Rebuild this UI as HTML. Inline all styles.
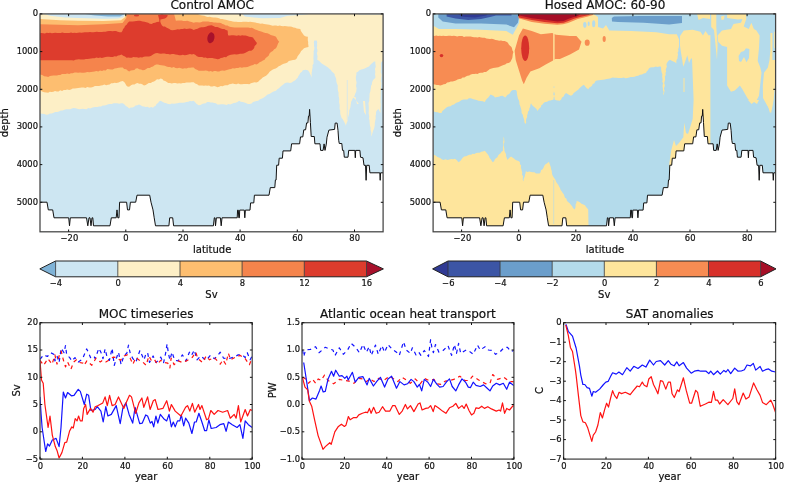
<!DOCTYPE html>
<html lang="en">
<head>
<meta charset="utf-8">
<title>AMOC hosing experiment figure</title>
<style>
html,body{margin:0;padding:0;background:#fff;}
body{width:785px;height:482px;overflow:hidden;}
svg{display:block;}
svg text{font-family:"DejaVu Sans", "Liberation Sans", sans-serif;fill:#111;stroke:#111;stroke-width:0.2px;}
</style>
</head>
<body>
<svg width="785" height="482" viewBox="0 0 785 482">
<defs><clipPath id="c1"><rect x="40.0" y="13.9" width="343.1" height="217.9"/></clipPath><clipPath id="c2"><rect x="433.1" y="13.9" width="342.5" height="217.9"/></clipPath><clipPath id="b1"><rect x="40.0" y="322.7" width="212.2" height="136.4"/></clipPath><clipPath id="b2"><rect x="302.0" y="322.7" width="211.9" height="136.4"/></clipPath><clipPath id="b3"><rect x="563.6" y="322.7" width="212.0" height="136.4"/></clipPath></defs>
<rect width="785" height="482" fill="#fff"/>
<g clip-path="url(#c1)">
<rect x="40.0" y="13.9" width="343.1" height="217.9" fill="#cde6f2"/>
<polygon points="40.0,113.5 42.2,113.7 44.3,114.0 46.4,114.8 48.2,114.5 49.9,113.4 51.8,113.5 53.6,112.8 55.3,112.0 57.2,112.1 59.0,111.6 60.7,110.6 62.6,110.6 64.4,109.8 66.2,109.3 68.1,109.2 70.1,109.2 71.8,108.4 73.6,108.1 75.5,108.3 77.3,108.8 79.1,109.2 80.9,108.9 82.8,108.8 84.6,109.0 86.5,109.2 88.2,108.0 90.1,108.6 91.8,107.7 93.6,107.3 95.4,107.0 97.3,107.1 99.1,106.5 101.0,106.6 102.7,105.4 104.6,105.4 106.4,105.0 108.2,104.3 110.0,104.0 111.8,104.0 113.6,103.3 115.5,103.2 117.3,103.3 119.2,103.7 121.0,103.3 122.8,103.3 124.5,104.4 125.9,105.9 127.6,107.1 129.2,108.4 130.8,107.6 132.6,107.4 134.2,106.7 135.6,105.6 137.4,105.3 139.0,104.6 140.7,105.3 142.2,106.3 144.0,106.5 145.8,107.0 147.6,106.8 149.3,107.8 151.3,107.1 153.0,107.8 154.2,106.6 155.7,105.7 156.5,104.0 158.1,103.1 159.0,101.6 160.6,100.8 162.4,101.8 164.3,102.7 166.3,103.3 168.2,104.0 170.1,104.2 171.8,103.4 173.7,103.7 175.5,103.4 177.4,103.2 179.2,102.8 181.0,102.7 182.9,102.8 184.7,102.6 186.4,101.9 188.3,101.8 190.0,100.9 191.9,101.3 193.7,100.8 195.3,102.4 196.7,104.1 198.8,105.2 200.6,105.0 202.1,103.9 203.9,103.5 205.7,103.2 207.1,102.0 209.0,102.0 210.7,102.4 212.5,102.5 214.2,102.9 215.9,103.3 217.4,104.5 219.2,104.6 221.0,104.2 222.9,104.3 224.7,104.5 226.5,105.0 228.4,104.1 230.2,104.6 232.0,103.8 233.8,103.1 235.7,102.7 237.5,101.9 239.1,100.8 240.7,101.8 242.7,101.9 244.5,102.6 246.3,103.2 248.0,104.0 249.8,103.9 251.6,103.4 253.0,102.0 254.7,101.5 256.4,101.1 258.2,100.8 259.6,99.6 261.4,98.8 263.1,98.0 264.6,96.9 266.1,95.7 267.5,94.5 269.4,94.0 271.0,93.1 272.5,92.0 274.2,91.3 276.0,90.7 277.3,89.3 279.0,88.2 280.4,86.8 282.0,85.6 283.6,84.3 285.0,82.9 287.5,82.5 290.0,83.0 291.8,82.4 293.4,81.3 295.0,80.4 296.4,79.1 297.7,77.8 298.4,76.1 299.5,74.6 300.3,72.9 301.9,71.8 302.8,70.2 305.4,69.7 307.9,70.2 309.3,71.9 310.1,73.9 311.1,75.7 311.7,77.8 311.7,76.0 311.6,74.2 311.7,72.4 312.1,70.6 312.2,68.9 312.7,67.1 312.5,65.3 313.6,63.6 313.5,61.8 313.6,60.0 313.6,60.0 313.4,58.2 313.5,56.5 313.6,54.7 313.7,52.9 313.6,51.2 314.2,49.4 314.4,47.7 314.0,45.9 314.1,44.1 313.8,42.4 314.2,40.6 316.8,40.6 317.2,42.4 317.0,44.1 317.2,45.9 316.8,47.7 317.3,49.4 317.5,51.2 316.8,53.0 317.2,54.7 317.6,56.5 317.3,58.2 317.4,60.0 319.1,60.8 320.4,62.2 321.7,63.6 323.3,64.6 324.9,65.6 326.6,66.4 328.0,67.6 329.4,68.8 330.8,70.0 331.8,71.6 333.3,72.7 334.6,74.0 334.8,75.7 335.6,77.2 336.2,78.9 336.2,80.6 336.5,82.3 337.1,83.9 337.8,85.5 337.7,87.4 337.8,89.2 338.0,91.0 338.6,92.8 338.5,94.7 338.7,96.5 339.1,98.3 339.2,100.1 339.0,102.0 339.4,103.7 339.7,105.5 339.6,107.3 339.6,109.1 340.3,110.7 340.2,112.5 340.4,114.3 341.0,116.0 341.5,117.8 342.8,119.3 343.7,120.9 344.5,122.6 345.4,124.2 346.0,126.0 346.2,124.2 346.9,122.6 347.5,120.9 347.9,119.2 348.0,117.4 348.5,115.7 349.0,114.0 349.2,112.2 349.2,110.4 349.9,108.8 350.4,107.2 350.6,105.4 350.9,103.7 351.0,102.0 351.9,100.2 352.7,98.4 354.1,96.9 354.8,95.0 355.4,93.3 356.2,91.8 356.4,90.1 356.6,88.3 356.1,86.6 356.1,84.9 356.6,83.1 356.4,81.4 355.9,79.6 355.9,77.9 355.9,76.2 356.5,74.4 356.2,72.7 358.0,71.8 359.4,70.3 361.3,69.5 363.3,69.0 365.3,68.3 367.1,67.3 369.0,66.4 370.2,65.0 371.5,63.8 374.0,61.5 375.3,61.5 375.3,63.3 375.6,65.2 375.7,67.0 374.9,68.8 375.2,70.7 375.3,72.5 375.0,74.3 375.4,76.2 375.3,78.0 373.5,79.5 372.6,81.0 372.0,82.7 371.8,84.5 371.0,86.0 370.9,87.8 370.6,89.6 370.3,91.4 369.7,93.2 369.5,95.0 369.5,97.0 369.2,99.0 369.3,101.0 368.5,103.0 368.6,105.0 368.8,107.0 368.8,109.0 368.8,111.0 368.6,113.0 369.0,115.0 369.2,116.8 369.0,118.7 369.5,120.5 369.6,122.3 369.8,124.2 370.0,126.0 370.6,127.7 370.5,129.5 371.0,131.3 371.4,133.0 371.0,134.9 371.5,136.6 371.7,134.7 372.5,132.9 373.0,131.0 373.9,129.0 374.5,126.8 374.8,125.0 374.8,123.3 375.1,121.5 375.4,119.8 375.8,118.0 375.5,116.2 376.0,114.5 376.0,112.7 376.4,111.0 378.4,109.0 379.5,110.9 380.3,113.0 380.6,111.2 380.4,109.5 380.5,107.7 380.7,106.0 380.8,104.2 380.5,102.4 380.6,100.7 380.6,98.9 380.6,97.1 380.8,95.4 380.7,93.6 380.8,91.8 380.8,90.1 381.2,88.3 381.0,86.6 381.2,84.8 381.3,83.0 380.8,81.3 381.0,79.5 381.1,77.8 381.4,76.0 381.4,74.3 380.8,72.5 380.8,70.7 381.1,69.0 380.9,67.2 381.0,65.5 380.9,63.7 381.3,62.0 383.4,60.5 383.4,13.6 39.7,13.6" fill="#fdefc6" />
<line x1="347.3" y1="80" x2="347.3" y2="120" stroke="#cde6f2" stroke-width="0.7"/>
<polygon points="353.0,97.0 355.5,97.0 357.0,104.0 358.8,104.0 356.0,100.0" fill="#fdefc6" />
<polygon points="363.0,101.0 365.0,101.0 366.0,115.0 364.0,112.0" fill="#fdefc6" />
<polygon points="40.0,90.6 42.1,91.4 44.2,92.2 46.4,92.5 48.2,92.7 49.8,91.7 51.6,92.0 53.4,91.7 55.0,90.9 56.9,91.5 58.6,91.4 60.2,90.3 62.1,90.9 63.7,90.0 65.5,89.9 67.3,89.6 69.2,89.9 71.0,89.4 72.7,88.4 74.6,88.5 76.4,88.3 78.2,88.0 80.0,87.7 81.8,87.5 83.7,87.5 85.5,87.9 87.3,87.0 89.2,87.5 91.0,87.4 93.0,87.0 94.9,86.1 97.0,86.1 99.0,86.0 101.0,85.5 102.7,85.2 104.3,84.4 106.2,85.2 107.9,84.7 109.6,84.6 111.2,83.3 112.9,83.2 114.6,82.7 116.4,82.9 118.6,82.6 120.6,81.4 122.8,81.0 124.4,82.2 125.4,83.8 126.3,85.6 127.9,86.8 129.6,86.5 131.0,85.3 132.6,84.5 134.5,84.6 136.0,83.6 137.6,82.9 139.1,83.8 141.0,83.8 142.6,84.4 144.0,85.5 145.7,85.0 147.3,84.0 148.7,82.9 150.8,83.0 152.3,82.0 154.0,81.4 155.5,80.4 157.0,79.3 159.0,79.5 160.6,78.5 162.4,79.0 163.4,80.6 165.2,81.1 166.8,81.9 168.2,82.9 170.0,83.1 171.8,83.6 173.7,82.9 175.5,82.9 177.3,83.4 179.2,83.2 181.0,83.6 182.8,83.0 184.6,82.9 186.4,82.6 188.2,82.5 190.1,82.5 191.9,82.3 193.7,82.3 195.2,83.6 197.2,84.2 198.8,85.5 200.5,85.6 202.2,85.4 203.9,85.7 205.6,85.4 207.3,85.8 209.0,85.6 210.7,86.5 212.4,86.4 214.1,86.1 215.8,86.6 217.5,87.2 219.2,86.8 220.8,86.0 222.7,86.3 224.2,85.5 225.9,85.2 227.7,85.2 229.3,84.3 231.0,84.0 232.7,83.6 234.5,83.9 236.4,84.3 238.2,83.6 240.1,84.2 241.9,84.2 243.8,84.1 245.6,84.0 247.5,84.0 249.3,84.2 250.9,83.2 252.7,82.8 254.5,82.2 256.5,82.5 258.2,81.7 259.6,80.2 261.2,78.9 262.7,77.5 264.6,76.6 266.1,75.7 267.4,74.6 268.6,73.3 269.6,71.8 271.0,70.8 272.4,69.7 274.0,69.0 275.7,68.4 277.3,67.6 278.7,66.3 280.5,65.6 282.0,64.5 283.7,63.8 285.6,63.3 287.4,62.4 288.8,61.0 290.9,60.6 293.0,59.9 295.2,59.7 296.9,58.3 297.6,56.2 299.0,54.6 300.1,52.9 301.1,51.1 302.6,49.7 304.0,48.2 306.2,47.6 308.5,47.0 308.5,47.0 308.4,45.3 308.1,43.6 308.2,41.9 307.8,40.2 307.8,38.5 307.9,36.8 305.9,36.4 304.0,35.5 303.0,33.9 301.9,32.5 300.9,30.9 300.3,29.1 298.6,28.8 296.8,28.4 295.2,27.8 293.4,27.4 291.8,26.8 290.0,26.6 288.3,26.4 286.6,26.2 284.8,26.0 283.1,26.2 281.4,26.1 279.7,25.6 277.9,26.0 276.2,25.5 274.5,25.4 272.7,25.7 271.0,25.3 269.3,24.8 267.6,24.4 265.8,24.3 264.0,24.0 262.3,23.6 260.5,23.8 258.8,23.2 257.0,23.0 255.3,22.5 253.6,22.2 251.8,22.1 250.1,21.8 248.3,21.9 246.6,21.7 244.9,21.8 243.1,21.7 241.4,22.0 239.6,22.0 237.9,21.9 236.2,21.7 234.4,21.8 232.7,21.5 231.0,20.9 229.3,20.7 227.6,20.2 225.9,19.8 224.2,19.4 222.4,19.1 220.6,19.0 219.0,18.3 217.2,17.8 215.3,17.6 213.4,17.5 211.6,17.2 209.7,16.8 207.8,17.0 206.0,16.4 204.4,15.8 202.6,15.6 200.9,15.3 199.3,14.7 197.7,13.9 196.0,13.6 126.3,13.6 125.3,17.0 121.0,20.3 103.7,21.0 78.0,20.8 60.0,20.3 39.7,18.9" fill="#fdbe70" />
<polygon points="40.0,74.6 42.2,75.0 44.2,76.2 46.4,76.6 48.2,76.9 49.9,76.1 51.6,75.8 53.3,75.6 55.1,75.6 56.9,75.5 58.6,75.1 60.3,74.9 62.0,74.0 63.7,73.9 65.5,74.0 67.3,73.5 69.2,73.9 70.9,73.2 72.8,73.3 74.5,72.5 76.3,72.4 78.2,72.7 80.0,72.4 81.9,72.7 83.7,72.7 85.5,72.6 87.3,72.0 89.2,72.2 91.0,72.1 92.8,71.8 94.6,71.5 96.4,70.9 98.3,71.4 100.0,70.4 102.0,71.0 103.7,70.2 105.6,70.4 107.3,69.1 109.1,69.3 111.0,69.5 112.8,69.4 114.6,68.5 116.4,68.3 118.5,67.8 120.6,67.5 122.8,67.6 124.1,69.0 126.2,69.3 127.6,70.6 129.2,71.5 130.7,70.5 132.6,70.2 134.4,70.0 135.8,68.6 137.6,68.3 139.2,69.3 141.0,69.6 142.7,70.2 144.6,70.0 146.2,69.1 147.7,68.0 149.7,68.1 151.3,67.0 153.0,66.4 154.5,65.3 156.1,64.6 158.0,64.5 159.7,64.9 161.4,65.3 163.2,65.5 164.9,65.8 166.5,66.4 168.2,67.0 170.0,67.0 171.8,67.7 173.7,67.0 175.5,68.0 177.3,68.3 179.2,67.7 181.0,68.3 182.8,68.7 184.6,68.3 186.5,68.4 188.2,67.7 190.1,67.7 191.9,67.6 193.7,67.6 195.1,69.1 197.0,69.8 198.8,70.8 200.5,70.7 202.2,70.8 203.9,70.7 205.6,70.5 207.3,70.7 209.0,71.5 210.7,71.0 212.4,71.7 214.1,71.0 215.8,71.1 217.5,71.5 219.2,71.5 220.8,70.8 222.5,70.6 224.4,70.8 226.0,70.3 227.7,69.8 229.4,69.2 231.1,69.1 232.7,68.3 234.6,68.6 236.4,68.0 238.2,68.1 240.0,67.2 241.9,67.8 243.7,67.3 245.5,67.2 247.5,66.9 249.3,66.3 251.1,65.4 253.1,65.1 254.7,64.1 256.6,64.5 258.2,63.5 259.6,62.2 261.4,61.6 262.9,60.5 264.6,59.7 265.7,58.0 267.4,56.8 268.8,55.4 269.5,53.4 271.0,52.0 272.8,50.9 274.2,49.3 276.0,48.2 276.9,46.6 277.5,44.9 278.1,43.2 279.2,41.8 279.2,41.8 277.9,40.3 276.9,38.6 276.0,36.8 274.3,35.9 272.5,35.5 270.7,35.1 269.1,34.0 267.4,33.3 265.5,33.0 263.7,32.6 262.0,31.7 260.2,31.3 258.5,30.7 256.9,29.9 255.1,29.4 253.4,28.6 251.8,27.8 250.1,27.9 248.3,27.6 246.6,27.4 244.9,27.4 243.1,27.6 241.4,27.5 239.6,27.4 237.9,27.4 236.2,27.4 234.4,27.6 232.7,27.2 230.8,27.1 229.0,26.6 227.5,25.6 225.6,25.5 224.1,24.6 222.5,23.9 220.9,23.1 219.2,22.7 217.4,22.7 215.5,22.5 213.7,22.4 211.9,22.1 210.1,21.9 208.3,21.4 206.4,21.5 204.6,21.4 202.7,21.6 201.0,22.3 199.2,22.5 197.3,22.2 195.5,22.3 193.7,22.7 191.6,22.1 189.5,21.4 187.3,20.8 185.4,21.1 183.5,20.9 181.6,20.5 179.7,20.6 177.8,20.6 175.9,20.8 174.0,13.6 127.2,13.6 126.3,18.0 122.5,23.0 103.7,24.3 78.0,25.3 39.7,24.3" fill="#f5844c" />
<polygon points="72.0,60.3 73.8,60.6 75.4,59.7 77.1,59.4 78.9,59.3 80.6,59.5 82.4,59.4 84.1,59.5 85.8,59.1 87.6,58.9 89.3,58.8 91.0,58.4 92.8,58.2 94.6,58.2 96.4,57.5 98.3,58.1 100.1,57.5 101.9,58.0 103.7,57.6 105.5,57.1 107.3,56.8 109.1,56.8 111.0,57.0 112.8,57.0 114.6,56.2 116.4,56.5 118.0,55.5 119.8,55.3 121.5,54.6 123.2,55.7 125.0,56.6 126.6,57.8 128.3,57.5 130.0,57.8 131.7,57.8 133.4,57.1 135.2,57.2 136.9,57.3 138.7,57.7 140.4,57.2 142.1,57.4 143.8,56.8 145.5,56.5 147.3,56.4 149.0,56.5 150.8,56.1 152.3,55.1 153.8,53.9 155.5,53.3 157.3,52.9 159.1,53.5 160.9,53.8 162.8,53.6 164.6,53.6 166.4,54.1 168.2,54.0 170.0,54.6 171.9,54.1 173.7,54.1 175.5,54.5 177.4,54.8 179.2,55.2 181.0,55.2 182.8,54.7 184.7,55.2 186.5,54.9 188.3,54.5 190.0,54.0 191.9,54.6 193.7,54.0 195.5,54.9 196.9,56.3 198.8,57.1 200.5,57.0 202.2,57.1 203.9,57.8 205.6,57.5 207.3,58.3 209.0,58.0 210.7,57.9 212.4,58.1 214.1,58.4 215.8,58.8 217.5,59.3 219.2,59.0 220.8,58.1 222.5,57.8 224.2,57.1 226.1,57.3 227.5,55.9 229.2,55.3 230.9,54.7 232.7,54.6 234.5,54.2 236.4,54.5 238.2,54.2 240.0,53.7 241.9,53.7 243.7,53.4 245.5,52.7 247.3,51.7 249.1,50.8 251.3,50.7 253.0,49.5 254.2,48.0 254.6,46.1 256.1,44.8 257.0,43.1 257.0,43.1 255.9,41.7 254.9,40.3 253.9,38.9 253.0,37.4 251.1,37.1 249.2,36.8 247.3,36.1 245.5,35.5 243.8,35.6 242.1,35.2 240.3,35.8 238.6,35.2 236.9,35.7 235.2,35.6 233.5,35.3 231.7,35.3 230.0,35.5 228.3,35.5 227.8,33.8 227.8,32.1 227.6,30.4 225.9,30.0 224.3,29.1 222.5,29.0 220.9,28.4 219.2,27.8 217.4,26.9 215.2,26.9 213.4,26.0 211.5,25.3 209.8,25.4 208.1,25.7 206.5,26.6 204.8,26.9 203.1,27.2 201.3,27.2 199.3,27.7 197.6,28.8 195.5,29.2 193.7,30.1 191.9,29.0 189.9,28.5 188.1,28.7 186.4,28.9 184.5,28.5 182.8,28.9 181.0,29.1 179.3,29.4 177.6,29.3 175.9,29.7 174.2,29.9 172.5,30.3 170.8,30.1 169.4,29.1 167.9,28.2 166.3,27.6 164.9,26.6 163.1,26.4 161.8,25.3 160.9,23.6 160.3,21.8 160.4,19.5 162.7,19.0 165.0,18.6 166.7,17.3 168.0,15.5 166.1,14.8 164.0,14.8 162.0,14.3 160.0,14.8 158.0,15.0 158.6,17.2 159.2,19.5 159.3,21.8 156.8,22.1 155.1,22.7 153.3,23.1 151.7,24.0 149.8,23.7 148.2,22.8 146.3,22.3 144.6,21.8 142.7,21.5 140.0,20.8 138.2,20.7 136.4,21.0 134.6,21.3 132.8,21.4 131.0,21.5 129.2,21.5 127.7,22.9 126.6,24.7 125.0,26.0 124.3,27.7 123.1,29.1 122.5,30.8 121.5,32.3 119.6,32.2 117.8,31.8 116.0,31.0 114.2,31.1 112.5,31.3 110.7,31.0 109.0,31.1 107.2,31.2 105.5,31.8 103.7,31.7 102.0,32.1 100.3,32.1 98.6,31.9 96.8,31.8 95.1,32.1 93.4,32.3 91.7,32.2 90.0,32.1 88.3,32.2 86.6,32.2 84.8,32.2 83.1,32.4 81.4,32.8 79.7,32.4 78.0,32.7 76.3,32.9 74.5,32.7 72.8,32.9 71.0,32.6 69.3,33.0 67.6,33.0 65.8,33.0 64.1,33.1 62.3,32.6 60.6,32.9 58.9,33.1 57.1,33.0 55.4,32.7 53.6,33.0 51.9,33.2 50.1,32.8 48.4,33.0 46.7,32.8 44.9,33.4 43.2,33.2 41.4,33.0 39.7,33.2 39.7,60.3" fill="#dd3c2d" />
<ellipse cx="136.5" cy="15.5" rx="2.6" ry="0.9" fill="#dd3c2d"/>
<ellipse cx="210.9" cy="37.8" rx="3.5" ry="5.5" transform="rotate(12 210.9 37.8)" fill="#a8112b"/>
<polygon points="43.0,13.6 50.0,15.8 65.0,17.4 78.0,18.1 103.7,18.8 118.0,18.5 123.5,17.0 125.3,13.6" fill="#cde6f2" />
<polygon points="85.0,14.2 95.0,15.6 108.0,16.4 120.0,16.4 124.3,14.2" fill="#7fb3d7" />
<polygon points="241.7,13.6 245.0,16.5 262.0,18.3 280.0,18.0 287.5,15.8 300.0,15.0 308.0,14.3 308.0,13.6" fill="#cde6f2" />
<polygon points="356.0,13.6 360.0,14.6 381.0,14.4 383.4,13.6" fill="#cde6f2" />
<polygon points="39.7,202.2 47.0,202.2 48.3,209.9 52.7,209.9 54.0,217.8 68.7,217.8 69.5,225.8 70.3,217.8 86.5,217.8 87.8,225.8 89.0,217.8 90.0,217.8 91.0,225.8 92.0,217.8 92.8,217.8 93.5,225.8 110.0,225.8 111.3,217.8 116.2,217.8 117.0,209.9 117.8,217.8 119.0,217.8 119.6,202.2 126.6,202.2 127.5,209.9 129.5,209.9 130.4,202.2 135.7,202.2 137.0,195.2 149.7,195.2 151.0,202.2 153.0,209.9 154.2,217.8 155.5,225.8 168.9,225.8 169.7,217.8 172.7,217.8 173.6,225.8 213.4,225.8 214.3,217.8 215.0,217.8 215.5,225.8 216.4,217.8 220.4,217.8 221.2,225.8 222.0,217.8 237.2,217.8 237.6,210.1 238.3,210.1 238.8,217.8 239.4,217.8 239.7,210.1 244.3,210.1 244.8,217.8 245.4,210.1 250.0,210.1 250.6,202.9 253.8,202.9 254.4,195.2 269.0,195.2 270.3,187.6 274.8,187.6 275.4,180.0 276.1,180.0 276.7,165.2 278.6,165.2 279.2,158.2 282.4,158.2 283.0,150.9 290.7,150.9 291.6,143.8 299.6,143.8 300.5,136.9 302.8,136.9 303.8,129.8 305.6,129.8 306.6,122.9 307.9,122.9 308.5,116.1 309.2,116.1 309.6,109.4 310.4,122.4 311.2,136.5 314.3,136.5 314.9,143.8 320.0,143.8 320.6,150.4 323.1,150.4 324.1,143.9 325.0,150.4 326.3,144.1 327.0,137.2 328.9,130.1 334.6,129.4 335.2,123.1 337.1,123.1 338.0,130.4 338.7,140.4 339.3,143.5 341.8,143.5 342.5,150.4 343.7,150.4 344.3,157.2 348.0,157.2 348.7,150.4 354.9,150.4 355.3,157.8 355.7,150.4 359.9,150.4 360.5,157.2 363.0,157.8 364.0,165.3 365.5,165.3 366.1,180.3 366.7,165.3 369.2,165.3 369.9,172.8 379.8,172.8 380.2,180.3 380.6,172.8 383.4,172.8 383.4,233.0 39.7,233.0" fill="#fff"/><polyline points="39.7,202.2 47.0,202.2 48.3,209.9 52.7,209.9 54.0,217.8 68.7,217.8 69.5,225.8 70.3,217.8 86.5,217.8 87.8,225.8 89.0,217.8 90.0,217.8 91.0,225.8 92.0,217.8 92.8,217.8 93.5,225.8 110.0,225.8 111.3,217.8 116.2,217.8 117.0,209.9 117.8,217.8 119.0,217.8 119.6,202.2 126.6,202.2 127.5,209.9 129.5,209.9 130.4,202.2 135.7,202.2 137.0,195.2 149.7,195.2 151.0,202.2 153.0,209.9 154.2,217.8 155.5,225.8 168.9,225.8 169.7,217.8 172.7,217.8 173.6,225.8 213.4,225.8 214.3,217.8 215.0,217.8 215.5,225.8 216.4,217.8 220.4,217.8 221.2,225.8 222.0,217.8 237.2,217.8 237.6,210.1 238.3,210.1 238.8,217.8 239.4,217.8 239.7,210.1 244.3,210.1 244.8,217.8 245.4,210.1 250.0,210.1 250.6,202.9 253.8,202.9 254.4,195.2 269.0,195.2 270.3,187.6 274.8,187.6 275.4,180.0 276.1,180.0 276.7,165.2 278.6,165.2 279.2,158.2 282.4,158.2 283.0,150.9 290.7,150.9 291.6,143.8 299.6,143.8 300.5,136.9 302.8,136.9 303.8,129.8 305.6,129.8 306.6,122.9 307.9,122.9 308.5,116.1 309.2,116.1 309.6,109.4 310.4,122.4 311.2,136.5 314.3,136.5 314.9,143.8 320.0,143.8 320.6,150.4 323.1,150.4 324.1,143.9 325.0,150.4 326.3,144.1 327.0,137.2 328.9,130.1 334.6,129.4 335.2,123.1 337.1,123.1 338.0,130.4 338.7,140.4 339.3,143.5 341.8,143.5 342.5,150.4 343.7,150.4 344.3,157.2 348.0,157.2 348.7,150.4 354.9,150.4 355.3,157.8 355.7,150.4 359.9,150.4 360.5,157.2 363.0,157.8 364.0,165.3 365.5,165.3 366.1,180.3 366.7,165.3 369.2,165.3 369.9,172.8 379.8,172.8 380.2,180.3 380.6,172.8 383.4,172.8" fill="none" stroke="#111" stroke-width="1" stroke-linejoin="miter"/>
</g>
<g clip-path="url(#c2)">
<rect x="433.1" y="13.9" width="342.5" height="217.9" fill="#b4dbeb"/>
<polygon points="432.8,111.0 435.1,111.9 437.6,112.2 439.5,113.0 441.5,112.9 442.4,111.1 443.9,109.8 445.3,108.4 446.8,107.2 448.6,106.4 450.6,106.3 452.1,105.1 454.0,104.5 455.5,103.3 457.0,102.4 458.8,102.0 460.2,100.9 461.8,100.1 463.6,99.5 465.5,99.6 467.3,99.4 468.9,98.2 470.8,98.2 472.7,98.9 474.6,99.6 476.6,99.9 478.4,100.8 480.6,101.1 482.7,101.2 484.8,102.0 485.7,100.3 486.9,98.8 488.3,97.5 489.5,96.0 490.5,94.4 492.2,95.2 493.8,96.1 495.0,97.6 496.9,97.0 498.8,96.8 500.6,95.9 502.6,95.7 505.2,97.6 506.3,96.2 507.5,94.8 509.2,94.0 510.3,92.5 511.2,90.9 512.8,89.9 516.0,89.9 516.8,91.6 516.9,93.4 517.2,95.2 517.6,97.0 518.0,98.8 519.0,100.4 519.4,102.2 519.4,104.1 520.1,105.7 520.7,107.4 521.2,109.2 521.5,111.0 521.6,113.0 522.8,114.7 523.1,116.6 523.8,118.4 524.3,120.3 524.4,122.2 525.3,124.0 526.2,122.4 526.0,120.5 526.3,118.7 527.2,117.1 527.1,115.2 527.8,113.5 527.9,111.7 529.2,110.2 529.3,108.4 530.2,106.8 530.4,105.0 531.0,103.3 532.0,105.1 533.6,106.4 535.1,107.7 536.5,109.1 537.4,111.0 538.5,109.6 539.6,108.3 540.9,107.1 541.3,105.2 542.8,104.2 543.8,102.7 545.4,102.1 547.1,101.7 548.6,100.8 550.3,100.4 552.0,100.1 553.5,99.5 553.6,97.8 554.1,96.0 553.3,94.2 553.7,92.5 554.1,90.8 554.3,89.0 553.6,87.2 554.0,85.5 554.4,87.2 553.7,89.0 553.7,90.8 554.3,92.5 554.8,94.2 554.0,96.0 554.6,97.7 554.6,99.5 556.2,100.3 558.0,100.5 559.7,100.8 561.2,99.5 562.0,97.5 563.7,96.4 564.5,94.5 566.0,93.1 567.7,93.9 569.2,95.1 571.0,95.7 572.6,94.7 573.7,93.0 575.1,91.9 576.7,90.8 578.2,89.7 579.5,88.3 580.8,86.9 582.3,85.8 583.9,84.8 585.2,86.5 586.5,88.1 588.3,89.3 589.2,87.7 590.7,86.8 592.0,85.7 592.7,83.9 594.5,83.2 595.1,81.4 596.6,80.4 598.7,80.3 600.9,80.0 603.0,79.7 604.8,79.5 606.5,78.9 608.2,78.7 610.0,78.5 612.7,77.6 614.5,77.8 616.4,77.7 618.2,78.0 620.0,77.9 621.8,78.0 623.7,77.6 625.5,78.2 627.3,78.0 629.1,77.5 630.9,76.9 632.8,77.0 634.6,76.7 636.4,76.0 638.2,75.7 640.0,74.7 642.0,74.4 643.8,73.4 645.9,73.1 646.7,71.4 648.0,70.2 648.9,68.6 650.3,67.4 652.1,67.2 653.9,67.2 655.7,66.6 657.5,67.1 659.3,66.5 661.1,66.8 661.1,68.7 661.3,70.6 661.7,72.5 662.4,74.3 662.2,76.3 662.4,78.2 662.7,79.9 662.2,81.7 663.2,83.3 662.6,85.1 662.6,86.8 662.9,88.5 663.0,90.3 663.7,91.9 663.1,93.7 663.7,95.4 663.8,93.7 664.4,92.0 664.5,90.3 663.9,88.5 664.6,86.8 664.9,85.1 664.2,83.3 664.6,81.6 665.1,79.9 665.0,78.2 664.9,76.5 665.8,74.8 665.4,73.1 666.2,71.4 665.7,69.7 666.3,68.0 666.9,66.4 666.4,64.6 666.9,62.9 668.3,61.1 670.0,59.7 671.6,60.7 673.3,61.5 675.0,62.2 676.4,63.6 676.3,61.8 676.6,60.0 677.6,58.3 677.6,56.5 678.1,54.7 677.6,52.8 678.5,51.1 678.1,49.2 678.8,47.5 679.0,45.7 679.0,39.3 676.8,34.2 669.2,34.2 656.4,32.3 631.0,31.0 609.3,30.4 606.0,25.0 603.0,28.5 598.0,27.0 598.0,17.0 593.0,13.6 591.7,13.6 519.2,13.6 519.2,22.7 516.6,27.8 512.8,34.8 506.4,31.0 481.0,29.7 455.5,29.1 438.9,29.1 433.8,25.9 432.8,25.9" fill="#fee59c" />
<ellipse cx="584.8" cy="25" rx="1.7" ry="2.9" fill="#b4dbeb"/>
<ellipse cx="588.7" cy="23.7" rx="1" ry="2.3" fill="#b4dbeb"/>
<ellipse cx="593.7" cy="23.7" rx="1.6" ry="3.5" fill="#b4dbeb"/>
<polygon points="692.0,58.5 691.0,58.5 689.0,63.0 687.3,55.3 683.4,66.8 681.0,52.7 680.0,45.7 680.0,36.0 683.8,30.4 692.7,29.7 700.4,31.7 703.0,35.5 705.5,31.0 708.7,35.5 710.4,35.0 710.4,160.0 669.3,175.0 669.3,163.5 671.2,150.4 674.0,140.0 676.0,146.0 679.0,143.0 683.3,137.3 684.3,122.4 686.0,133.0 688.0,134.0 689.9,128.0 692.7,118.7 693.6,100.0" fill="#fee59c" />
<line x1="684" y1="78" x2="684" y2="92" stroke="#fee59c" stroke-width="1"/>
<line x1="683.3" y1="60" x2="683.3" y2="65" stroke="#fee59c" stroke-width="0.8"/>
<polygon points="711.2,13.6 716.3,13.6 716.3,27.0 717.6,45.0 717.0,60.0 715.5,45.0 714.0,30.0 711.2,27.0" fill="#fee59c" />
<polygon points="697.0,13.6 710.0,13.6 710.0,19.0 703.0,18.0 698.5,20.0" fill="#fee59c" />
<polygon points="721.0,16.5 724.5,15.5 724.0,19.5 721.5,20.0" fill="#fee59c" />
<polygon points="717.6,35.5 722.0,30.4 731.0,29.0 733.5,24.0 741.0,22.7 742.4,19.0 738.0,19.5 727.1,18.0 727.1,13.6 746.2,13.6 746.2,19.0 743.7,26.6 748.8,29.0 751.3,22.7 753.9,29.0 756.4,30.4 759.6,35.5 759.0,48.0 757.7,61.0 760.3,67.6 761.5,72.7 759.0,95.7 756.4,100.8 751.3,102.7 747.5,98.2 742.4,89.3 739.9,85.5 734.8,90.6 731.0,91.8 727.1,85.5 727.1,47.0 722.0,45.7 718.2,41.8" fill="#fee59c" />
<polygon points="738.6,56.0 741.0,52.0 744.0,51.0 746.0,48.2 749.4,49.0 749.0,58.0 746.5,62.2 744.0,57.0 741.0,62.0 739.0,61.0" fill="#b4dbeb" />
<polygon points="770.4,33.0 772.4,33.0 772.4,60.0 775.0,60.0 775.0,85.0 773.6,100.0 771.0,113.5 769.0,108.4 766.6,104.6 763.0,98.0 762.8,85.5 764.0,72.7 767.9,67.6 769.5,60.0 770.4,50.0" fill="#fee59c" />
<polygon points="774.3,31.7 775.7,31.7 775.7,48.0 774.3,48.0" fill="#fee59c" />
<polygon points="748.0,100.0 759.0,100.0 757.0,104.0 754.0,102.0 751.5,104.0" fill="#fee59c" />
<polygon points="765.0,100.0 773.0,100.0 772.0,108.0 770.0,113.0 768.0,106.0" fill="#fee59c" />
<polygon points="432.8,154.2 434.3,155.1 436.0,155.7 437.3,157.0 439.0,157.5 440.5,158.3 442.0,159.4 443.7,159.9 445.5,159.3 447.5,160.0 449.4,159.5 451.2,159.1 453.1,159.3 455.0,158.8 456.9,160.3 458.5,162.2 460.3,161.1 461.4,159.4 462.7,157.8 464.2,156.5 466.0,156.3 467.6,155.5 469.2,154.8 471.1,154.8 472.6,153.7 474.5,154.0 476.1,152.9 477.9,152.8 479.7,152.7 481.3,151.8 483.0,151.4 484.7,150.8 485.9,152.1 487.1,153.4 488.1,154.8 489.0,156.3 489.6,158.0 490.8,159.3 491.7,160.8 492.7,162.2 494.1,161.2 494.7,159.4 495.9,158.2 497.4,157.2 498.1,155.5 499.2,154.3 500.6,153.2 501.6,151.8 503.0,150.8 502.9,149.0 502.9,147.2 503.3,145.5 503.4,143.7 503.1,141.9 503.6,140.1 503.5,138.4 503.3,136.6 503.7,134.8 503.3,136.6 504.1,138.3 504.3,140.1 504.4,141.9 504.0,143.7 503.8,145.5 504.0,147.3 504.4,149.0 504.4,150.8 505.2,152.5 506.1,154.3 506.1,156.3 506.8,158.1 507.5,159.9 509.1,158.1 511.0,156.5 512.4,157.6 514.0,158.4 515.3,159.7 516.9,160.5 518.6,161.0 520.0,162.2 519.9,164.0 521.1,165.6 520.9,167.5 521.4,169.2 521.8,171.0 522.3,172.7 522.0,174.6 523.0,176.2 522.8,178.1 522.7,179.9 523.5,181.6 523.5,179.8 524.0,178.1 524.8,176.5 525.0,174.7 525.6,173.0 525.8,171.3 527.5,171.9 529.3,171.6 531.0,172.0 532.7,172.3 534.4,172.3 536.0,173.4 537.7,173.6 539.5,173.6 540.6,172.2 541.0,170.3 542.6,169.2 543.5,167.7 544.2,166.0 545.2,164.5 547.2,163.3 549.0,161.8 549.5,163.6 550.2,165.4 550.8,167.1 551.1,169.0 551.7,170.8 551.9,172.6 552.2,174.5 553.1,176.4 554.2,178.1 555.4,179.8 556.0,181.6 557.0,183.2 558.3,184.7 559.0,186.5 560.0,188.1 560.6,189.9 561.8,191.4 562.7,192.9 563.8,194.3 564.4,196.0 565.0,197.7 566.5,198.8 566.9,200.7 568.1,202.0 569.7,203.2 570.8,204.8 572.1,206.3 573.0,208.1 574.5,209.4 575.4,207.8 575.6,206.1 575.6,204.3 576.5,202.7 576.6,200.9 578.4,201.6 580.1,202.4 581.5,203.8 583.3,204.5 585.0,205.2 585.9,206.7 587.0,208.1 588.2,209.4 588.6,231.5 432.8,231.5" fill="#fee59c" />
<line x1="553.7" y1="180" x2="553.7" y2="224" stroke="#b4dbeb" stroke-width="0.6"/>
<polygon points="438.3,13.6 438.3,17.6 442.7,21.5 455.5,23.4 481.0,23.4 506.4,24.6 514.0,27.2 517.9,22.7 519.2,16.4 518.0,13.6" fill="#6b9ecb" />
<polygon points="446.6,13.6 446.6,16.5 455.5,18.4 468.2,19.9 481.0,18.9 490.0,17.0 496.0,15.6 511.5,15.6 511.5,13.6" fill="#3c55a5" />
<polygon points="458.0,14.3 463.0,16.8 475.0,17.4 486.0,15.6 488.0,14.3" fill="#303a94" />
<polygon points="611.8,18.0 614.0,16.4 640.0,16.0 682.0,16.0 682.0,23.0 669.2,24.6 643.7,22.7 618.2,22.1 612.0,21.5" fill="#6b9ecb" />
<polygon points="432.8,35.5 434.5,35.9 436.3,35.6 438.0,35.9 439.8,35.8 441.5,36.0 443.3,35.7 445.0,36.0 446.8,35.9 448.5,35.8 450.3,35.7 452.0,36.1 453.8,35.7 455.5,36.1 457.2,36.5 458.9,36.0 460.6,36.0 462.3,36.1 464.0,36.9 465.7,36.5 467.4,36.4 469.1,36.4 470.8,36.5 472.5,37.1 474.2,37.2 475.9,37.3 477.6,37.4 479.3,37.0 481.0,37.4 482.8,37.7 484.6,37.8 486.4,38.5 488.2,38.7 490.0,39.1 491.9,38.7 493.7,39.3 495.5,39.9 497.3,40.3 499.1,40.7 501.0,40.4 502.8,40.9 504.6,41.1 506.4,41.8 507.9,42.8 508.8,44.5 510.0,45.8 511.5,46.9 512.0,48.6 512.5,50.4 513.4,52.0 512.8,53.9 512.6,55.9 512.3,57.9 511.5,59.7 510.3,61.9 508.7,62.9 506.8,63.2 505.2,64.4 503.5,65.0 501.7,65.7 500.0,66.4 498.4,67.2 496.7,67.4 495.0,67.8 493.2,67.9 491.6,68.6 489.9,68.9 488.0,70.6 486.0,72.1 484.3,72.0 482.6,72.7 480.9,72.7 479.2,73.1 477.6,73.9 475.9,73.8 474.2,74.1 472.5,74.1 470.8,74.6 469.2,75.4 467.5,75.7 465.9,76.5 464.3,77.4 462.5,77.5 461.1,78.8 459.3,79.1 457.5,79.4 455.9,80.4 454.3,81.1 452.5,81.5 450.7,81.6 449.0,82.3 447.1,82.6 445.6,84.0 443.7,84.2 442.0,84.9 440.2,85.5 438.5,84.9 436.7,85.1 434.9,84.5 433.2,84.2 432.8,84.2" fill="#f78c53" />
<polygon points="514.6,50.8 519.0,35.5 522.9,28.5 531.8,31.0 540.8,34.2 552.2,32.9 556.0,34.8 570.0,36.1 576.4,36.1 581.5,41.8 579.0,49.5 570.0,54.6 559.9,59.0 555.4,59.0 552.2,61.0 545.7,64.5 539.3,68.3 530.4,71.5 526.6,77.8 523.8,84.2 522.1,80.4 518.9,70.2 515.7,60.0" fill="#f78c53" />
<line x1="553.9" y1="32.5" x2="553.9" y2="61" stroke="#fee59c" stroke-width="1.4"/>
<ellipse cx="525.2" cy="48.2" rx="4" ry="12.7" fill="#d7302a"/>
<ellipse cx="441.5" cy="55.6" rx="1.8" ry="1.6" fill="#d7302a"/>
<ellipse cx="587.2" cy="42.7" rx="2.5" ry="3.1" fill="#f78c53"/>
<ellipse cx="604.2" cy="39" rx="1.6" ry="3" fill="#f78c53"/>
<polygon points="518.0,13.6 518.5,18.3 531.8,22.0 544.6,23.8 557.3,24.8 563.0,24.2 568.0,23.0 573.0,21.0 577.8,19.0 587.0,16.8 593.0,15.0 593.0,13.6" fill="#f78c53" />
<polygon points="518.5,13.6 519.0,17.5 531.8,20.0 544.6,22.0 557.3,23.2 563.7,22.8 569.0,20.8 574.0,18.8 580.0,17.0 589.0,15.0 590.0,13.6" fill="#d7302a" />
<polygon points="519.0,13.6 519.5,15.5 531.8,18.2 544.6,19.8 557.3,21.4 563.7,21.0 568.0,19.0 573.0,17.3 577.8,16.0 581.0,13.6" fill="#a60f27" />
<polygon points="432.8,202.2 440.1,202.2 441.4,209.9 445.8,209.9 447.1,217.8 461.8,217.8 462.6,225.8 463.4,217.8 479.6,217.8 480.9,225.8 482.1,217.8 483.1,217.8 484.1,225.8 485.1,217.8 485.9,217.8 486.6,225.8 503.1,225.8 504.4,217.8 509.3,217.8 510.1,209.9 510.9,217.8 512.1,217.8 512.7,202.2 519.7,202.2 520.6,209.9 522.6,209.9 523.5,202.2 528.8,202.2 530.1,195.2 542.8,195.2 544.1,202.2 546.1,209.9 547.3,217.8 548.6,225.8 562.0,225.8 562.8,217.8 565.8,217.8 566.7,225.8 606.5,225.8 607.4,217.8 608.1,217.8 608.6,225.8 609.5,217.8 613.5,217.8 614.3,225.8 615.1,217.8 630.3,217.8 630.7,210.1 631.4,210.1 631.9,217.8 632.5,217.8 632.8,210.1 637.4,210.1 637.9,217.8 638.5,210.1 643.1,210.1 643.7,202.9 646.9,202.9 647.5,195.2 662.1,195.2 663.4,187.6 667.9,187.6 668.5,180.0 669.2,180.0 669.8,165.2 671.7,165.2 672.3,158.2 675.5,158.2 676.1,150.9 683.8,150.9 684.7,143.8 692.7,143.8 693.6,136.9 695.9,136.9 696.9,129.8 698.7,129.8 699.7,122.9 701.0,122.9 701.6,116.1 702.3,116.1 702.7,109.4 703.5,122.4 704.3,136.5 707.4,136.5 708.0,143.8 713.1,143.8 713.7,150.4 716.2,150.4 717.2,143.9 718.1,150.4 719.4,144.1 720.1,137.2 722.0,130.1 727.7,129.4 728.3,123.1 730.2,123.1 731.1,130.4 731.8,140.4 732.4,143.5 734.9,143.5 735.6,150.4 736.8,150.4 737.4,157.2 741.1,157.2 741.8,150.4 748.0,150.4 748.4,157.8 748.8,150.4 753.0,150.4 753.6,157.2 756.1,157.8 757.1,165.3 758.6,165.3 759.2,180.3 759.8,165.3 762.3,165.3 763.0,172.8 772.9,172.8 773.3,180.3 773.7,172.8 776.5,172.8 776.5,233.0 432.8,233.0" fill="#fff"/><polyline points="432.8,202.2 440.1,202.2 441.4,209.9 445.8,209.9 447.1,217.8 461.8,217.8 462.6,225.8 463.4,217.8 479.6,217.8 480.9,225.8 482.1,217.8 483.1,217.8 484.1,225.8 485.1,217.8 485.9,217.8 486.6,225.8 503.1,225.8 504.4,217.8 509.3,217.8 510.1,209.9 510.9,217.8 512.1,217.8 512.7,202.2 519.7,202.2 520.6,209.9 522.6,209.9 523.5,202.2 528.8,202.2 530.1,195.2 542.8,195.2 544.1,202.2 546.1,209.9 547.3,217.8 548.6,225.8 562.0,225.8 562.8,217.8 565.8,217.8 566.7,225.8 606.5,225.8 607.4,217.8 608.1,217.8 608.6,225.8 609.5,217.8 613.5,217.8 614.3,225.8 615.1,217.8 630.3,217.8 630.7,210.1 631.4,210.1 631.9,217.8 632.5,217.8 632.8,210.1 637.4,210.1 637.9,217.8 638.5,210.1 643.1,210.1 643.7,202.9 646.9,202.9 647.5,195.2 662.1,195.2 663.4,187.6 667.9,187.6 668.5,180.0 669.2,180.0 669.8,165.2 671.7,165.2 672.3,158.2 675.5,158.2 676.1,150.9 683.8,150.9 684.7,143.8 692.7,143.8 693.6,136.9 695.9,136.9 696.9,129.8 698.7,129.8 699.7,122.9 701.0,122.9 701.6,116.1 702.3,116.1 702.7,109.4 703.5,122.4 704.3,136.5 707.4,136.5 708.0,143.8 713.1,143.8 713.7,150.4 716.2,150.4 717.2,143.9 718.1,150.4 719.4,144.1 720.1,137.2 722.0,130.1 727.7,129.4 728.3,123.1 730.2,123.1 731.1,130.4 731.8,140.4 732.4,143.5 734.9,143.5 735.6,150.4 736.8,150.4 737.4,157.2 741.1,157.2 741.8,150.4 748.0,150.4 748.4,157.8 748.8,150.4 753.0,150.4 753.6,157.2 756.1,157.8 757.1,165.3 758.6,165.3 759.2,180.3 759.8,165.3 762.3,165.3 763.0,172.8 772.9,172.8 773.3,180.3 773.7,172.8 776.5,172.8" fill="none" stroke="#111" stroke-width="1" stroke-linejoin="miter"/>
</g>
<rect x="40.0" y="13.9" width="343.1" height="217.9" fill="none" stroke="#444" stroke-width="1.25"/>
<path d="M68.6,231.8v-2.3M68.6,13.9v2.3M125.8,231.8v-2.3M125.8,13.9v2.3M183.0,231.8v-2.3M183.0,13.9v2.3M240.1,231.8v-2.3M240.1,13.9v2.3M297.3,231.8v-2.3M297.3,13.9v2.3M354.5,231.8v-2.3M354.5,13.9v2.3M40.0,13.9h2.3M383.1,13.9h-2.3M40.0,51.6h2.3M383.1,51.6h-2.3M40.0,89.3h2.3M383.1,89.3h-2.3M40.0,126.9h2.3M383.1,126.9h-2.3M40.0,164.6h2.3M383.1,164.6h-2.3M40.0,202.3h2.3M383.1,202.3h-2.3" stroke="#111" stroke-width="1" fill="none"/>
<text x="69.4" y="241.3" font-size="8.4" text-anchor="middle" >−20</text>
<text x="126.0" y="241.3" font-size="8.4" text-anchor="middle" >0</text>
<text x="183.2" y="241.3" font-size="8.4" text-anchor="middle" >20</text>
<text x="240.3" y="241.3" font-size="8.4" text-anchor="middle" >40</text>
<text x="297.5" y="241.3" font-size="8.4" text-anchor="middle" >60</text>
<text x="354.7" y="241.3" font-size="8.4" text-anchor="middle" >80</text>
<text x="38.0" y="16.3" font-size="8.4" text-anchor="end" >0</text>
<text x="38.0" y="54.0" font-size="8.4" text-anchor="end" >1000</text>
<text x="38.0" y="91.7" font-size="8.4" text-anchor="end" >2000</text>
<text x="38.0" y="129.3" font-size="8.4" text-anchor="end" >3000</text>
<text x="38.0" y="167.0" font-size="8.4" text-anchor="end" >4000</text>
<text x="38.0" y="204.7" font-size="8.4" text-anchor="end" >5000</text>
<text x="212.2" y="253.4" font-size="10" text-anchor="middle" >latitude</text>
<text x="212.2" y="9.4" font-size="12" text-anchor="middle" >Control AMOC</text>
<text transform="translate(8.2,122.8) rotate(-90)" font-size="10" text-anchor="middle">depth</text>
<rect x="433.1" y="13.9" width="342.5" height="217.9" fill="none" stroke="#444" stroke-width="1.25"/>
<path d="M461.6,231.8v-2.3M461.6,13.9v2.3M518.7,231.8v-2.3M518.7,13.9v2.3M575.8,231.8v-2.3M575.8,13.9v2.3M632.9,231.8v-2.3M632.9,13.9v2.3M690.0,231.8v-2.3M690.0,13.9v2.3M747.1,231.8v-2.3M747.1,13.9v2.3M433.1,13.9h2.3M775.6,13.9h-2.3M433.1,51.6h2.3M775.6,51.6h-2.3M433.1,89.3h2.3M775.6,89.3h-2.3M433.1,126.9h2.3M775.6,126.9h-2.3M433.1,164.6h2.3M775.6,164.6h-2.3M433.1,202.3h2.3M775.6,202.3h-2.3" stroke="#111" stroke-width="1" fill="none"/>
<text x="462.4" y="241.3" font-size="8.4" text-anchor="middle" >−20</text>
<text x="518.9" y="241.3" font-size="8.4" text-anchor="middle" >0</text>
<text x="576.0" y="241.3" font-size="8.4" text-anchor="middle" >20</text>
<text x="633.1" y="241.3" font-size="8.4" text-anchor="middle" >40</text>
<text x="690.2" y="241.3" font-size="8.4" text-anchor="middle" >60</text>
<text x="747.3" y="241.3" font-size="8.4" text-anchor="middle" >80</text>
<text x="431.1" y="16.3" font-size="8.4" text-anchor="end" >0</text>
<text x="431.1" y="54.0" font-size="8.4" text-anchor="end" >1000</text>
<text x="431.1" y="91.7" font-size="8.4" text-anchor="end" >2000</text>
<text x="431.1" y="129.3" font-size="8.4" text-anchor="end" >3000</text>
<text x="431.1" y="167.0" font-size="8.4" text-anchor="end" >4000</text>
<text x="431.1" y="204.7" font-size="8.4" text-anchor="end" >5000</text>
<text x="605.0" y="253.4" font-size="10" text-anchor="middle" >latitude</text>
<text x="605.0" y="9.4" font-size="12" text-anchor="middle" >Hosed AMOC: 60-90</text>
<text transform="translate(401.3,122.8) rotate(-90)" font-size="10" text-anchor="middle">depth</text>
<rect x="55.6" y="261.0" width="62.2" height="15.8" fill="#cde6f2"/><rect x="117.8" y="261.0" width="62.2" height="15.8" fill="#fdefc6"/><rect x="180.0" y="261.0" width="62.2" height="15.8" fill="#fdbe70"/><rect x="242.1" y="261.0" width="62.2" height="15.8" fill="#f5844c"/><rect x="304.3" y="261.0" width="62.2" height="15.8" fill="#dd3c2d"/><polygon points="55.6,261.0 39.8,268.9 55.6,276.8" fill="#7fb3d7"/><polygon points="366.5,261.0 383.4,268.9 366.5,276.8" fill="#a8112b"/><polygon points="39.8,268.9 55.6,261.0 366.5,261.0 383.4,268.9 366.5,276.8 55.6,276.8" fill="none" stroke="#222" stroke-width="1" stroke-linejoin="miter"/><path d="M55.6,261.0V276.8M117.8,261.0V276.8M180.0,261.0V276.8M242.1,261.0V276.8M304.3,261.0V276.8M366.5,261.0V276.8" stroke="#333" stroke-width="0.8" fill="none"/><text x="55.9" y="285.7" font-size="8.4" text-anchor="middle" >−4</text><text x="118.1" y="285.7" font-size="8.4" text-anchor="middle" >0</text><text x="180.3" y="285.7" font-size="8.4" text-anchor="middle" >4</text><text x="242.4" y="285.7" font-size="8.4" text-anchor="middle" >8</text><text x="304.6" y="285.7" font-size="8.4" text-anchor="middle" >12</text><text x="366.8" y="285.7" font-size="8.4" text-anchor="middle" >16</text><text x="211.5" y="298.2" font-size="10" text-anchor="middle" >Sv</text>
<rect x="448.0" y="261.0" width="52.1" height="15.8" fill="#3c55a5"/><rect x="500.1" y="261.0" width="52.1" height="15.8" fill="#6b9ecb"/><rect x="552.2" y="261.0" width="52.1" height="15.8" fill="#b4dbeb"/><rect x="604.3" y="261.0" width="52.1" height="15.8" fill="#fee59c"/><rect x="656.4" y="261.0" width="52.1" height="15.8" fill="#f78c53"/><rect x="708.5" y="261.0" width="52.1" height="15.8" fill="#d7302a"/><polygon points="448.0,261.0 432.6,268.9 448.0,276.8" fill="#303a94"/><polygon points="760.6,261.0 776.0,268.9 760.6,276.8" fill="#a60f27"/><polygon points="432.6,268.9 448.0,261.0 760.6,261.0 776.0,268.9 760.6,276.8 448.0,276.8" fill="none" stroke="#222" stroke-width="1" stroke-linejoin="miter"/><path d="M448.0,261.0V276.8M500.1,261.0V276.8M552.2,261.0V276.8M604.3,261.0V276.8M656.4,261.0V276.8M708.5,261.0V276.8M760.6,261.0V276.8" stroke="#333" stroke-width="0.8" fill="none"/><text x="448.3" y="285.7" font-size="8.4" text-anchor="middle" >−6</text><text x="500.4" y="285.7" font-size="8.4" text-anchor="middle" >−4</text><text x="552.5" y="285.7" font-size="8.4" text-anchor="middle" >−2</text><text x="604.6" y="285.7" font-size="8.4" text-anchor="middle" >0</text><text x="656.7" y="285.7" font-size="8.4" text-anchor="middle" >2</text><text x="708.8" y="285.7" font-size="8.4" text-anchor="middle" >4</text><text x="760.9" y="285.7" font-size="8.4" text-anchor="middle" >6</text><text x="604.2" y="298.2" font-size="10" text-anchor="middle" >Sv</text>
<g clip-path="url(#b1)"><polyline points="40.0,359.3 43.6,354.9 47.4,356.5 50.6,352.7 53.8,354.3 54.9,360.9 57.0,356.0 59.1,362.5 61.2,348.3 64.0,352.7 65.5,345.6 66.7,354.9 69.7,357.6 71.8,360.9 75.0,357.6 78.2,362.0 82.4,359.3 86.7,348.9 88.4,352.2 90.5,357.6 93.9,356.0 95.2,358.7 98.8,348.3 100.9,352.2 103.0,358.7 105.1,348.9 107.3,358.2 109.4,360.3 112.1,348.3 114.3,365.3 116.4,358.2 118.5,352.2 121.1,364.7 124.0,355.4 126.8,353.3 128.5,345.1 130.2,353.3 132.9,358.7 135.9,362.0 139.9,350.5 144.0,359.8 146.1,353.3 147.6,352.7 149.5,362.5 153.1,356.0 155.9,362.5 158.6,360.3 160.7,357.1 163.5,363.1 165.6,353.3 167.1,344.0 168.4,353.3 169.9,359.8 172.0,352.2 174.7,360.3 178.1,360.9 182.4,354.9 186.0,360.9 189.4,352.2 191.5,355.4 194.3,350.0 197.0,359.8 200.6,356.0 206.2,360.3 210.4,355.4 214.4,358.7 217.2,356.0 220.2,352.2 223.6,358.2 228.4,358.7 234.0,357.1 238.2,354.9 242.4,354.9 245.2,357.6 247.3,352.7 250.1,359.8 252.2,356.0" fill="none" stroke="#1212ff" stroke-width="1.2" stroke-linejoin="round" stroke-dasharray="3.8 3.8"/><polyline points="40.0,360.3 43.6,365.3 47.9,358.7 52.1,364.2 54.9,354.9 57.0,364.2 59.1,356.0 61.2,351.1 63.3,359.8 65.5,366.9 67.6,362.0 71.0,369.1 73.7,362.0 76.5,359.8 79.3,362.5 82.9,363.1 84.1,365.3 86.9,360.9 91.8,365.3 96.0,358.2 100.3,362.0 102.4,360.3 105.8,362.0 109.4,359.8 113.4,357.1 116.4,357.6 120.4,360.3 124.0,356.0 127.4,354.9 130.2,358.2 132.9,364.2 135.9,357.6 138.7,359.8 142.7,362.0 146.1,365.3 148.9,356.0 151.6,360.9 154.6,359.8 157.3,364.2 160.7,360.3 164.3,362.5 167.7,363.1 169.9,368.0 171.1,358.2 174.1,364.7 178.1,360.9 182.4,362.5 186.4,360.9 192.1,357.6 195.8,352.2 197.7,358.2 202.5,362.5 206.2,356.0 209.5,359.8 214.4,357.6 220.2,364.2 222.9,359.8 225.7,364.2 228.4,353.3 230.6,359.8 235.4,357.1 240.3,355.4 245.2,358.7 249.4,364.7 252.2,357.6" fill="none" stroke="#ff1212" stroke-width="1.2" stroke-linejoin="round" stroke-dasharray="3.8 3.8"/><polyline points="40.0,396.9 41.1,414.4 42.1,427.5 45.7,451.5 47.6,443.8 49.5,446.0 52.3,440.0 56.1,438.4 59.1,446.6 61.0,427.5 63.3,392.0 65.5,398.0 67.6,392.5 71.4,395.8 74.0,395.3 78.2,389.3 80.3,391.4 84.3,404.5 86.7,394.2 88.6,395.3 90.9,410.5 95.2,409.5 97.3,406.7 100.9,411.1 103.2,422.0 105.8,406.7 107.9,416.0 111.3,414.4 116.2,405.6 120.2,423.6 122.8,408.4 125.9,402.9 129.1,414.4 132.7,423.1 135.1,407.3 139.7,423.6 142.3,423.1 145.7,414.9 147.6,416.0 150.3,423.1 152.0,421.5 153.7,426.9 155.9,416.0 157.8,423.1 160.3,414.4 163.7,418.7 166.7,420.9 169.0,414.4 171.4,426.9 173.3,422.0 175.2,426.9 177.5,420.9 179.8,420.9 181.3,414.9 183.7,425.8 185.6,418.2 188.8,423.1 191.9,433.5 194.5,422.0 196.2,422.0 198.9,413.3 201.9,422.0 204.7,430.7 206.6,430.7 208.9,419.8 211.2,428.5 216.1,427.5 219.9,424.7 223.8,423.6 226.1,431.3 228.4,422.0 232.3,424.7 237.1,427.5 239.9,424.7 242.9,438.4 245.2,420.9 248.4,424.7 252.2,427.5" fill="none" stroke="#1212ff" stroke-width="1.2" stroke-linejoin="round"/><polyline points="40.0,360.9 41.5,380.0 43.2,383.3 44.9,404.5 48.1,427.5 50.0,416.0 52.3,435.1 55.3,446.6 57.0,450.4 59.1,458.0 61.9,452.6 64.8,442.7 66.7,442.2 69.5,431.3 71.8,426.9 73.3,428.0 75.2,418.7 77.1,420.9 78.6,416.0 80.3,420.9 82.2,420.9 83.7,408.4 85.6,404.5 87.1,414.4 90.5,408.4 93.0,412.2 95.2,406.7 98.1,405.6 102.8,402.9 105.1,396.9 107.3,405.6 109.6,395.3 112.1,405.6 115.1,404.5 118.5,396.9 123.8,408.4 126.6,401.8 129.5,395.3 131.5,396.9 135.7,413.3 138.9,402.9 141.9,398.0 143.8,407.3 147.6,396.9 150.1,409.5 153.3,400.7 155.2,399.6 158.0,409.5 162.9,408.4 166.7,400.7 169.4,411.1 171.4,404.5 175.2,411.1 180.9,416.0 185.6,407.3 187.5,405.6 189.8,411.1 192.4,403.4 194.7,412.2 198.5,404.5 200.0,409.5 201.9,405.6 206.6,419.8 208.5,418.7 210.8,410.5 214.2,414.4 218.0,410.5 222.7,412.2 227.6,410.5 230.3,418.2 234.2,414.4 236.1,418.2 238.4,405.6 240.7,422.0 245.2,409.5 247.5,416.0 250.3,409.5 252.2,410.5" fill="none" stroke="#ff1212" stroke-width="1.2" stroke-linejoin="round"/></g><rect x="40.0" y="322.7" width="212.2" height="136.40000000000003" fill="none" stroke="#444" stroke-width="1.25"/><path d="M40.0,459.1v-2.3M40.0,322.7v2.3M82.4,459.1v-2.3M82.4,322.7v2.3M124.9,459.1v-2.3M124.9,322.7v2.3M167.3,459.1v-2.3M167.3,322.7v2.3M209.8,459.1v-2.3M209.8,322.7v2.3M252.2,459.1v-2.3M252.2,322.7v2.3M40.0,322.7h2.3M252.2,322.7h-2.3M40.0,350.0h2.3M252.2,350.0h-2.3M40.0,377.3h2.3M252.2,377.3h-2.3M40.0,404.5h2.3M252.2,404.5h-2.3M40.0,431.8h2.3M252.2,431.8h-2.3M40.0,459.1h2.3M252.2,459.1h-2.3" stroke="#111" stroke-width="1" fill="none"/><text x="40.4" y="468.5" font-size="8.4" text-anchor="middle" >0</text><text x="82.8" y="468.5" font-size="8.4" text-anchor="middle" >20</text><text x="125.3" y="468.5" font-size="8.4" text-anchor="middle" >40</text><text x="167.7" y="468.5" font-size="8.4" text-anchor="middle" >60</text><text x="210.2" y="468.5" font-size="8.4" text-anchor="middle" >80</text><text x="252.6" y="468.5" font-size="8.4" text-anchor="middle" >100</text><text x="38.0" y="325.1" font-size="8.4" text-anchor="end" >20</text><text x="38.0" y="352.4" font-size="8.4" text-anchor="end" >15</text><text x="38.0" y="379.7" font-size="8.4" text-anchor="end" >10</text><text x="38.0" y="406.9" font-size="8.4" text-anchor="end" >5</text><text x="38.0" y="434.2" font-size="8.4" text-anchor="end" >0</text><text x="38.0" y="461.5" font-size="8.4" text-anchor="end" >−5</text><text x="146.1" y="479.6" font-size="10" text-anchor="middle" >year</text><text x="146.1" y="317.9" font-size="12" text-anchor="middle" >MOC timeseries</text><text transform="translate(19.5,390.4) rotate(-90)" font-size="10" text-anchor="middle">Sv</text>
<g clip-path="url(#b2)"><polyline points="302.6,350.0 303.7,356.5 305.6,350.0 310.5,349.4 315.6,346.7 319.0,352.7 322.3,350.0 325.3,347.3 329.3,348.9 332.9,350.0 335.1,355.4 339.3,347.8 343.3,354.3 347.6,350.0 351.2,343.4 356.0,347.8 359.4,352.7 363.0,344.5 366.4,352.2 369.2,346.7 371.3,355.4 375.5,345.1 378.3,354.3 381.9,345.6 384.6,352.2 388.0,344.5 392.3,349.4 396.5,352.2 399.3,355.4 403.5,341.8 406.3,350.0 410.3,353.3 412.4,347.8 416.0,354.9 418.8,352.2 420.9,355.4 424.3,350.5 428.5,356.5 430.6,339.6 431.9,347.8 433.4,352.7 435.5,344.5 438.9,352.2 443.1,350.5 448.0,345.6 451.6,355.4 454.4,344.5 456.5,353.3 458.6,343.4 460.7,353.3 466.2,350.0 469.8,351.6 473.2,354.3 477.5,345.1 480.2,350.0 485.1,346.7 488.5,350.0 492.7,350.5 495.5,354.3 499.7,352.2 503.9,347.8 507.5,347.3 510.9,351.6 513.9,350.5" fill="none" stroke="#1212ff" stroke-width="1.2" stroke-linejoin="round" stroke-dasharray="3.8 3.8"/><polyline points="302.8,377.3 305.6,378.9 308.4,383.3 312.6,379.4 315.6,383.3 318.3,378.9 321.1,380.5 324.5,375.1 328.1,380.5 333.6,383.8 339.3,379.4 344.8,380.5 349.0,381.1 353.9,383.3 358.8,378.4 363.0,378.9 366.4,381.6 369.8,378.9 374.0,381.6 378.3,378.4 383.8,380.5 389.5,376.2 393.8,378.9 397.8,381.6 402.0,377.3 406.3,380.0 407.5,381.1 410.3,383.3 415.2,378.9 420.2,383.8 424.3,378.4 429.1,380.5 434.0,379.4 437.0,383.8 441.0,384.4 445.2,381.1 449.5,380.5 453.7,379.4 459.9,376.2 465.0,380.5 469.0,380.5 472.6,376.2 478.7,380.0 485.7,383.8 490.0,383.3 492.7,374.5 497.6,379.4 503.9,377.3 509.5,381.6 513.9,381.6" fill="none" stroke="#ff1212" stroke-width="1.2" stroke-linejoin="round" stroke-dasharray="3.8 3.8"/><polyline points="303.7,362.5 307.1,384.4 309.4,400.7 312.4,398.0 316.0,399.1 319.6,390.4 321.1,386.0 323.2,392.0 325.3,391.4 328.1,378.9 331.5,371.3 333.6,376.2 335.7,370.2 339.3,376.2 342.0,375.6 344.8,378.4 346.9,376.2 348.2,380.0 352.4,372.3 355.2,382.2 358.8,377.3 363.0,376.7 367.1,384.9 369.2,378.4 373.4,386.0 377.0,381.1 380.4,377.3 384.6,387.1 388.0,378.9 391.6,376.2 396.5,388.2 399.9,381.6 404.1,384.9 407.5,383.8 411.1,379.4 413.9,381.6 417.3,387.1 419.4,384.4 421.7,390.9 424.3,379.4 427.9,382.2 430.6,386.5 433.4,379.4 437.0,384.4 439.7,387.1 443.1,386.5 446.7,381.6 449.5,378.9 452.2,386.5 455.8,390.9 458.6,384.9 462.0,378.9 465.6,382.2 468.3,387.1 470.5,387.6 473.2,382.2 476.0,385.4 480.2,386.5 483.6,384.9 487.2,388.2 490.0,390.9 492.7,386.0 496.3,383.3 499.7,384.9 503.3,383.3 506.7,389.3 509.5,382.2 513.1,384.9 513.9,385.4" fill="none" stroke="#1212ff" stroke-width="1.2" stroke-linejoin="round"/><polyline points="302.6,377.3 302.8,378.9 305.0,387.1 307.7,389.8 309.4,401.3 311.7,406.2 314.5,419.3 318.1,435.6 323.0,449.3 325.3,446.6 329.8,442.7 331.2,444.4 334.8,431.8 338.4,426.4 341.4,424.2 344.4,426.4 345.9,425.3 348.4,416.5 350.1,419.8 353.7,417.6 356.7,417.6 358.8,414.9 362.4,413.3 365.4,412.2 367.5,412.7 369.4,408.4 371.1,413.3 373.6,407.3 376.2,413.3 379.1,412.2 382.5,406.7 385.5,411.1 389.9,411.1 392.7,405.6 395.0,405.6 399.3,414.4 402.2,411.1 405.4,404.5 407.5,408.9 410.5,405.6 413.9,411.6 418.1,404.0 420.0,402.9 422.1,410.0 425.7,408.4 428.5,407.8 430.6,405.6 433.2,411.6 434.9,405.6 438.3,407.8 442.5,411.1 445.9,413.3 449.5,407.8 452.9,406.2 455.8,403.4 458.6,408.4 462.0,405.6 464.1,408.4 466.2,404.0 469.0,410.5 471.5,414.9 473.9,413.3 476.0,407.8 478.7,408.4 481.7,406.2 484.4,408.4 487.8,406.7 491.4,408.9 496.3,411.1 499.1,410.0 500.6,411.1 502.5,402.9 504.6,413.3 506.7,408.4 509.5,410.0 513.1,405.6 513.9,406.2" fill="none" stroke="#ff1212" stroke-width="1.2" stroke-linejoin="round"/></g><rect x="302.0" y="322.7" width="211.89999999999998" height="136.40000000000003" fill="none" stroke="#444" stroke-width="1.25"/><path d="M302.0,459.1v-2.3M302.0,322.7v2.3M344.4,459.1v-2.3M344.4,322.7v2.3M386.8,459.1v-2.3M386.8,322.7v2.3M429.1,459.1v-2.3M429.1,322.7v2.3M471.5,459.1v-2.3M471.5,322.7v2.3M513.9,459.1v-2.3M513.9,322.7v2.3M302.0,322.7h2.3M513.9,322.7h-2.3M302.0,350.0h2.3M513.9,350.0h-2.3M302.0,377.3h2.3M513.9,377.3h-2.3M302.0,404.5h2.3M513.9,404.5h-2.3M302.0,431.8h2.3M513.9,431.8h-2.3M302.0,459.1h2.3M513.9,459.1h-2.3" stroke="#111" stroke-width="1" fill="none"/><text x="302.4" y="468.5" font-size="8.4" text-anchor="middle" >0</text><text x="344.8" y="468.5" font-size="8.4" text-anchor="middle" >20</text><text x="387.2" y="468.5" font-size="8.4" text-anchor="middle" >40</text><text x="429.5" y="468.5" font-size="8.4" text-anchor="middle" >60</text><text x="471.9" y="468.5" font-size="8.4" text-anchor="middle" >80</text><text x="514.3" y="468.5" font-size="8.4" text-anchor="middle" >100</text><text x="300.0" y="325.1" font-size="8.4" text-anchor="end" >1.5</text><text x="300.0" y="352.4" font-size="8.4" text-anchor="end" >1.0</text><text x="300.0" y="379.7" font-size="8.4" text-anchor="end" >0.5</text><text x="300.0" y="406.9" font-size="8.4" text-anchor="end" >0.0</text><text x="300.0" y="434.2" font-size="8.4" text-anchor="end" >−0.5</text><text x="300.0" y="461.5" font-size="8.4" text-anchor="end" >−1.0</text><text x="407.9" y="479.6" font-size="10" text-anchor="middle" >year</text><text x="407.9" y="317.9" font-size="12" text-anchor="middle" >Atlantic ocean heat transport</text><text transform="translate(275.9,390.4) rotate(-90)" font-size="10" text-anchor="middle">PW</text>
<g clip-path="url(#b3)"><polyline points="565.7,324.3 566.1,324.8 568.3,331.3 572.5,336.1 576.1,348.0 579.5,366.3 580.8,375.1 582.9,384.5 584.8,384.5 587.1,387.6 589.5,388.4 591.8,396.2 593.3,391.5 595.6,392.3 599.6,389.1 603.5,384.5 605.8,382.1 608.1,381.4 611.3,375.1 612.6,372.8 616.2,374.1 618.9,372.0 622.5,374.7 626.8,367.7 630.2,371.2 633.8,366.3 638.0,368.5 642.3,365.0 645.9,367.1 649.7,360.1 653.5,365.0 656.2,361.5 660.5,360.7 664.7,365.0 668.3,360.7 670.9,364.2 674.1,365.8 676.8,361.9 679.1,365.8 683.4,362.6 686.6,368.1 691.2,373.2 694.4,371.2 698.2,370.4 700.6,371.2 706.1,371.2 708.8,373.6 710.7,371.2 713.5,374.7 717.5,371.0 720.3,374.1 723.9,370.4 726.0,372.0 727.9,369.5 730.7,373.6 734.7,368.1 738.1,371.2 741.3,371.0 744.4,369.7 747.0,365.0 750.6,365.8 753.3,363.4 755.7,370.1 760.1,366.5 762.5,371.2 765.6,369.7 768.6,368.9 771.8,371.2 775.6,372.0" fill="none" stroke="#1212ff" stroke-width="1.2" stroke-linejoin="round"/><polyline points="565.7,325.0 566.1,326.4 568.3,335.4 570.4,347.4 572.5,351.5 575.5,370.6 576.1,375.1 578.4,395.4 580.8,415.6 582.9,421.9 585.4,422.7 587.8,428.1 591.8,441.4 593.3,435.1 595.6,432.0 597.9,425.0 600.3,412.5 602.4,418.0 604.7,409.4 606.6,403.2 608.5,407.1 610.5,398.5 612.6,390.7 614.5,395.4 616.8,398.5 619.1,392.3 621.5,393.6 625.3,392.3 630.2,394.6 633.3,390.7 637.2,386.0 639.5,386.8 642.3,382.1 644.2,385.2 646.9,386.8 648.8,379.0 651.2,376.7 653.5,384.5 655.8,389.1 657.9,393.8 660.5,380.6 662.8,381.4 665.8,389.1 668.3,382.1 670.4,382.1 672.1,393.8 674.3,397.5 677.4,389.9 679.1,391.5 683.4,377.8 686.3,390.7 689.7,403.2 691.6,403.2 695.7,390.3 697.6,392.3 700.3,406.3 705.4,404.0 708.8,402.2 711.4,402.4 713.5,391.3 715.4,400.1 717.5,400.1 719.6,404.0 723.2,399.7 727.9,404.7 732.8,398.5 734.7,388.8 736.8,401.6 738.9,404.7 743.2,393.0 745.9,399.1 749.1,396.9 753.6,382.9 756.9,389.7 760.1,395.4 762.5,402.4 766.3,404.7 770.7,400.1 772.6,404.0 775.6,412.5" fill="none" stroke="#ff1212" stroke-width="1.2" stroke-linejoin="round"/></g><rect x="563.6" y="322.7" width="212.0" height="136.40000000000003" fill="none" stroke="#444" stroke-width="1.25"/><path d="M563.6,459.1v-2.3M563.6,322.7v2.3M606.0,459.1v-2.3M606.0,322.7v2.3M648.4,459.1v-2.3M648.4,322.7v2.3M690.8,459.1v-2.3M690.8,322.7v2.3M733.2,459.1v-2.3M733.2,322.7v2.3M775.6,459.1v-2.3M775.6,322.7v2.3M563.6,322.7h2.3M775.6,322.7h-2.3M563.6,342.2h2.3M775.6,342.2h-2.3M563.6,361.7h2.3M775.6,361.7h-2.3M563.6,381.2h2.3M775.6,381.2h-2.3M563.6,400.6h2.3M775.6,400.6h-2.3M563.6,420.1h2.3M775.6,420.1h-2.3M563.6,439.6h2.3M775.6,439.6h-2.3M563.6,459.1h2.3M775.6,459.1h-2.3" stroke="#111" stroke-width="1" fill="none"/><text x="564.0" y="468.5" font-size="8.4" text-anchor="middle" >0</text><text x="606.4" y="468.5" font-size="8.4" text-anchor="middle" >20</text><text x="648.8" y="468.5" font-size="8.4" text-anchor="middle" >40</text><text x="691.2" y="468.5" font-size="8.4" text-anchor="middle" >60</text><text x="733.6" y="468.5" font-size="8.4" text-anchor="middle" >80</text><text x="776.0" y="468.5" font-size="8.4" text-anchor="middle" >100</text><text x="561.6" y="325.1" font-size="8.4" text-anchor="end" >0</text><text x="561.6" y="344.6" font-size="8.4" text-anchor="end" >−1</text><text x="561.6" y="364.1" font-size="8.4" text-anchor="end" >−2</text><text x="561.6" y="383.6" font-size="8.4" text-anchor="end" >−3</text><text x="561.6" y="403.0" font-size="8.4" text-anchor="end" >−4</text><text x="561.6" y="422.5" font-size="8.4" text-anchor="end" >−5</text><text x="561.6" y="442.0" font-size="8.4" text-anchor="end" >−6</text><text x="561.6" y="461.5" font-size="8.4" text-anchor="end" >−7</text><text x="669.6" y="479.6" font-size="10" text-anchor="middle" >year</text><text x="669.6" y="317.9" font-size="12" text-anchor="middle" >SAT anomalies</text><text transform="translate(542.9,390.4) rotate(-90)" font-size="10" text-anchor="middle">C</text>
</svg>
</body>
</html>
